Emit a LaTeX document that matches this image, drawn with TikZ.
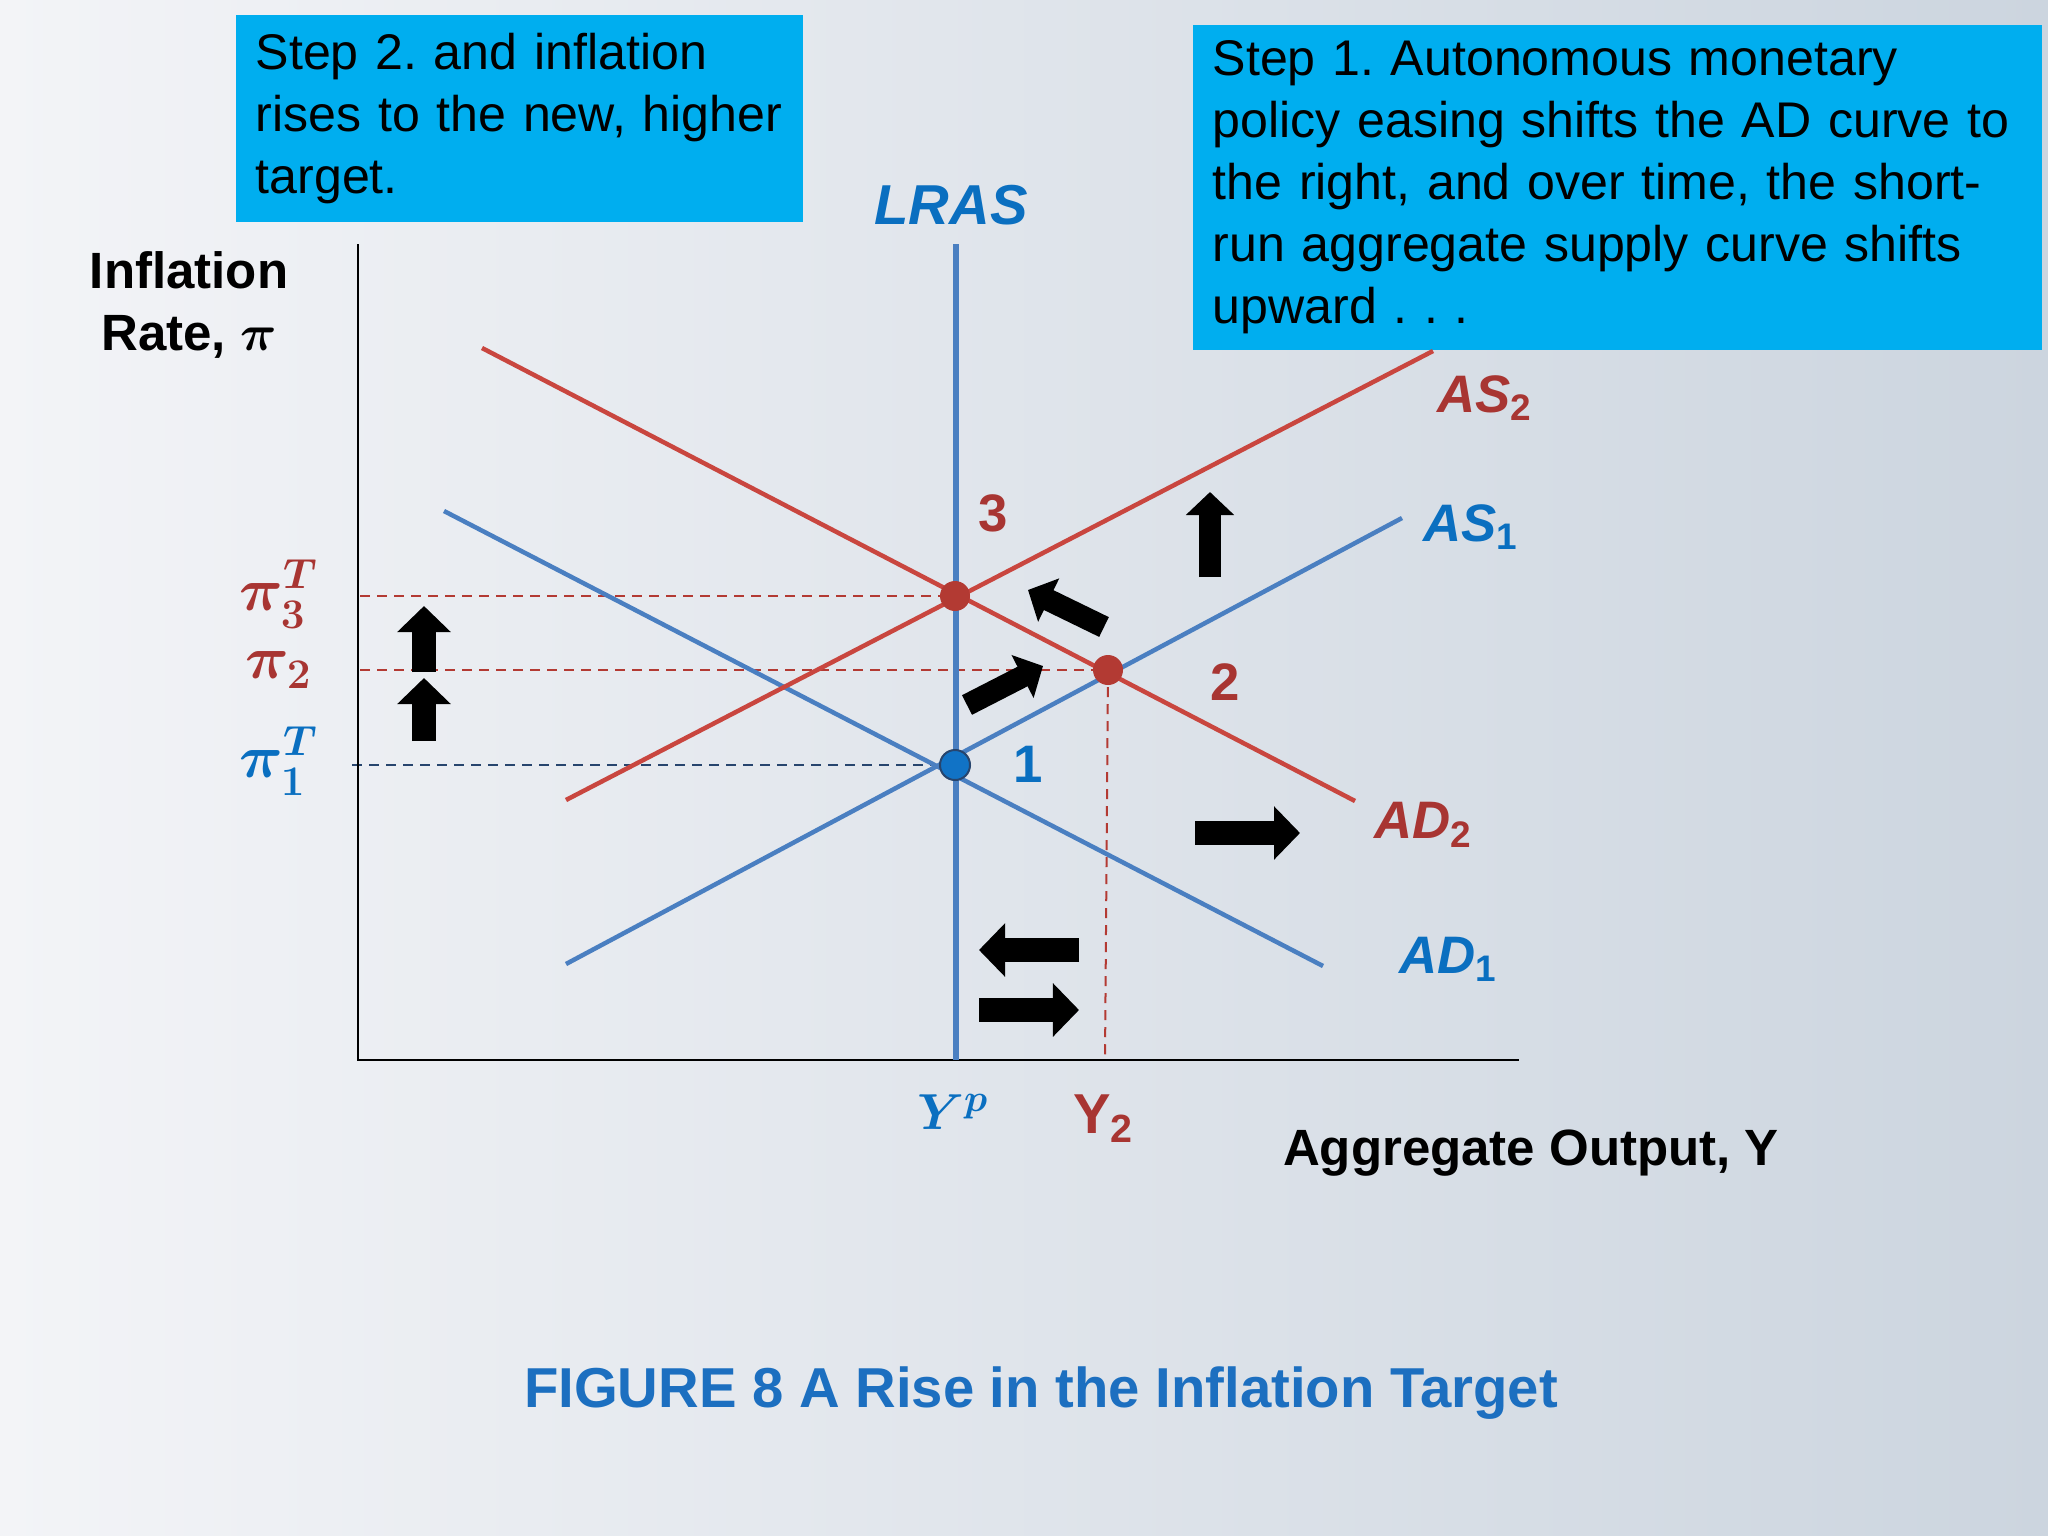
\documentclass[tikz,border=0pt]{standalone}
\usepackage{fontspec}
\setmainfont{Liberation Sans}
\usetikzlibrary{arrows.meta}
\frenchspacing
\definecolor{boxcyan}{HTML}{00AEEF}
\definecolor{lineblue}{HTML}{4A7FC1}
\definecolor{linered}{HTML}{C9463F}
\definecolor{lblblue}{HTML}{0A6FC0}
\definecolor{lblred}{HTML}{A83532}
\definecolor{dotred}{HTML}{B33A33}
\definecolor{dotblue}{HTML}{1173C6}
\definecolor{guideblue}{HTML}{27456E}
\definecolor{bgL}{HTML}{F3F4F7}
\definecolor{bgR}{HTML}{CCD5DF}
\definecolor{capblue}{HTML}{1C6FC0}
\tikzset{
  stepbox/.style={fill=boxcyan, anchor=north west, inner ysep=0pt, align=left,
    font=\fontsize{14.25pt}{17.6pt}\selectfont},
  curveB/.style={draw=lineblue, line width=0.045cm},
  curveR/.style={draw=linered, line width=0.045cm},
  guideR/.style={draw=dotred, line width=0.02cm, dash pattern=on 0.1cm off 0.07cm},
  guideB/.style={draw=guideblue, line width=0.02cm, dash pattern=on 0.1cm off 0.07cm},
  axisline/.style={draw=black, line width=0.028cm},
  barrow/.style={draw=black, line width=0.24cm, -{Triangle[length=0.26cm,width=0.52cm]}},
  barrowS/.style={draw=black, line width=0.22cm, -{Triangle[length=0.23cm,width=0.47cm]}},
  ptdot/.style={circle, inner sep=0pt, minimum size=0.3cm},
  curvelbl/.style={inner sep=0pt, font=\fontsize{15pt}{18pt}\selectfont\bfseries\itshape},
  numlbl/.style={inner sep=0pt, font=\fontsize{15pt}{18pt}\selectfont\bfseries},
  pilbl/.style={inner sep=0pt, font=\fontsize{17pt}{20pt}\selectfont\boldmath},
  axlbl/.style={inner sep=0pt, align=center, font=\fontsize{14.5pt}{17.4pt}\selectfont\bfseries}
}
\begin{document}
\begin{tikzpicture}[x=0.01cm,y=-0.01cm]
\useasboundingbox (0,0) rectangle (2048,1536);
\shade[left color=bgL, right color=bgR] (0,0) rectangle (2048,1536);

% text boxes
\node[stepbox, inner xsep=0.2cm, minimum height=2.07cm, text width=5.27cm] (step2) at (235,14)
  {Step 2. and inflation\\ rises to the new, higher\\ target.};
\node[stepbox, inner xsep=0.2cm, minimum height=3.25cm, text width=8.09cm] (step1) at (1192,24)
  {Step 1. Autonomous monetary\\ policy easing shifts the AD curve to\\ the right, and over time, the short-\\ run aggregate supply curve shifts\\ upward . . .};

% key coordinates
\coordinate (origin) at (358,1060);
\coordinate (ytop) at (358,244);
\coordinate (xend) at (1519,1060);
\coordinate (lrasTop) at (956,244);
\coordinate (lrasBot) at (956,1060);
\coordinate (c1) at (955,765);
\coordinate (c2) at (1108,670);
\coordinate (c3) at (955,596);
\coordinate (a1) at (352,765);
\coordinate (a2) at (360,670);
\coordinate (a3) at (360,596);
\coordinate (b2) at (1105,1060);

% guides
\draw[guideB] (a1) -- (c1);
\draw[guideR] (a2) -- (c2);
\draw[guideR] (a3) -- (c3);
\draw[guideR] (c2) -- (b2);

% axes
\draw[axisline] (ytop) -- (origin) -- (xend);

% curves
\coordinate (as1L) at (566,964);  \coordinate (as1R) at (1402,518);
\coordinate (as2L) at (566,800);  \coordinate (as2R) at (1433,351);
\coordinate (ad1L) at (444,511);  \coordinate (ad1R) at (1323,966);
\coordinate (ad2L) at (482,348);  \coordinate (ad2R) at (1355,801);
\draw[curveB] (ad1L) -- (ad1R);
\draw[curveB] (as1L) -- (as1R);
\draw[curveR] (as2L) -- (as2R);
\draw[curveR] (ad2L) -- (ad2R);
\draw[draw=lineblue, line width=0.055cm] (lrasTop) -- (lrasBot);

% points
\node[ptdot, fill=dotblue, draw=guideblue, line width=0.02cm] (p1) at (c1) {};
\node[ptdot, fill=dotred] (p2) at (c2) {};
\node[ptdot, fill=dotred] (p3) at (c3) {};

% block arrows
\draw[barrow] (424,741) -- (424,678);
\draw[barrow] (424,672) -- (424,606);
\draw[barrowS] (1210,577) -- (1210,492);
\draw[barrowS] (1104,627) -- (1028,590);
\draw[barrowS] (967,705) -- (1043,666);
\draw[barrow] (1195,833) -- (1300,833);
\draw[barrow] (1079,950) -- (979,950);
\draw[barrow] (979,1010) -- (1079,1010);

% labels
\node[curvelbl, text=lblblue, font=\fontsize{16pt}{19pt}\selectfont\bfseries\itshape] (lras) at (951,205) {LRAS};
\node[curvelbl, text=lblred] (las2) at (1485,398) {AS\textsubscript{\upshape 2}};
\node[curvelbl, text=lblblue] (las1) at (1471,527) {AS\textsubscript{\upshape 1}};
\node[curvelbl, text=lblred] (lad2) at (1424,825) {AD\textsubscript{\upshape 2}};
\node[curvelbl, text=lblblue] (lad1) at (1449,959) {AD\textsubscript{\upshape 1}};

\node[numlbl, text=lblred] (n3) at (993,513) {3};
\node[numlbl, text=lblred] (n2) at (1225,682) {2};
\node[numlbl, text=lblblue] (n1) at (1028,764) {1};

\node[pilbl, text=lblred] (pi3) at (279,594) {$\pi^{T}_{3}$};
\node[pilbl, text=lblred] (pi2) at (279,670) {$\pi_{2}$};
\node[pilbl, text=lblblue] (pi1) at (279,761) {$\pi^{T}_{1}$};

\node[pilbl, text=lblblue, font=\fontsize{15pt}{18pt}\selectfont\boldmath] (yp) at (953,1112) {$Y^{p}$};
\node[numlbl, text=lblred, font=\fontsize{16pt}{19pt}\selectfont\bfseries] (y2) at (1104,1119) {Y\textsubscript{2}};

\node[axlbl] (ylab) at (189,305) {Inflation\\ Rate, {\boldmath$\pi$}};
\node[axlbl] (xlab) at (1531,1153) {Aggregate Output, Y};

\node[inner sep=0pt, text=capblue, font=\fontsize{16pt}{19pt}\selectfont\bfseries] (cap) at (1041,1393)
  {FIGURE 8 A Rise in the Inflation Target};
\end{tikzpicture}
\end{document}
